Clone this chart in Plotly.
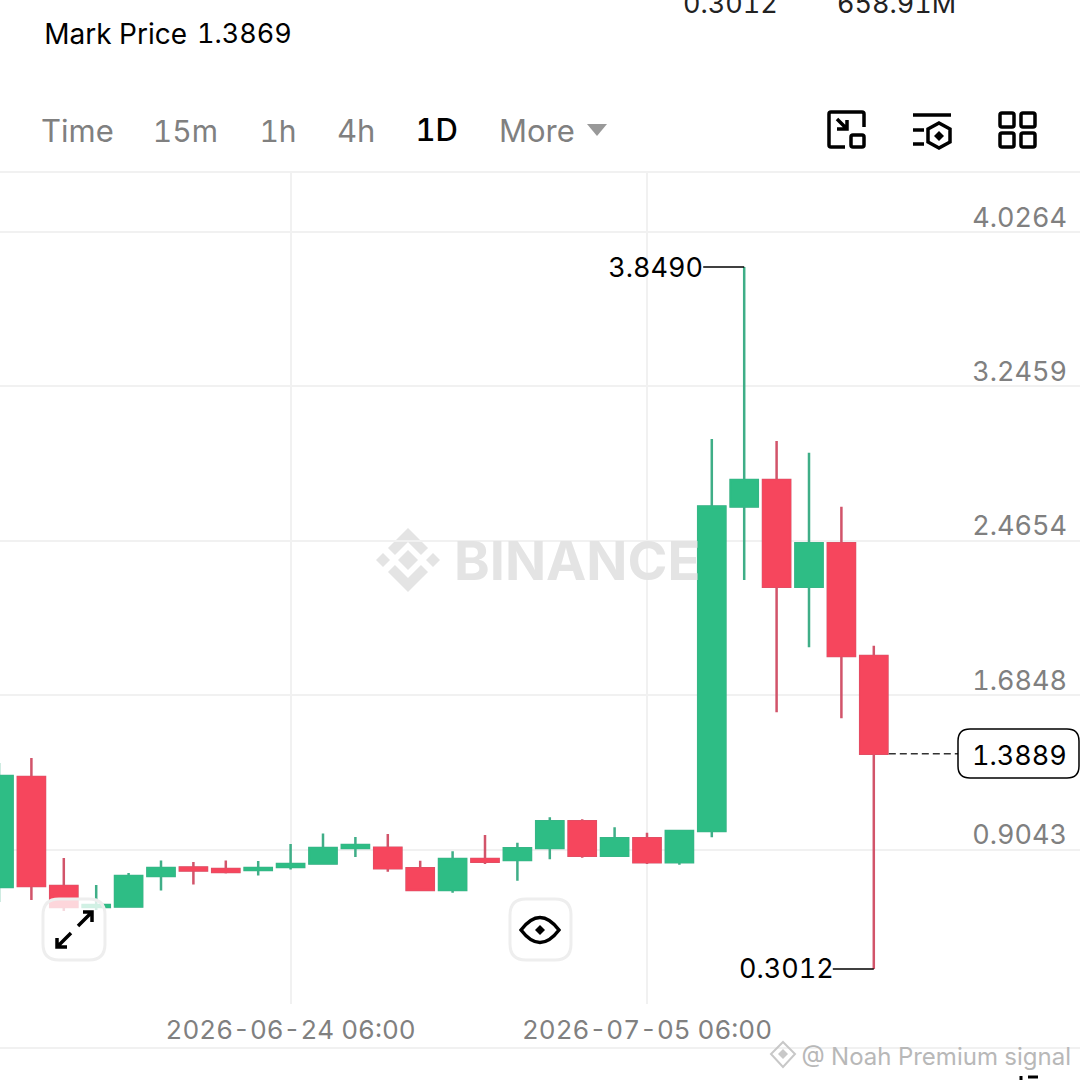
import pandas as pd
import plotly.graph_objects as go

dates = pd.date_range("2026-06-15 06:00", periods=28, freq="D")
opens = [0.7152, 1.2713, 0.7203, 0.6141, 0.6167, 0.7708, 0.8138, 0.8062, 0.8012, 0.8163,
         0.8340, 0.9124, 0.9139, 0.8098, 0.7001, 0.8568, 0.8517, 0.9124, 1.0473, 0.8735,
         0.9614, 0.8401, 0.9983, 2.6387, 2.7726, 2.2333, 2.4526, 1.8829]
highs = [1.3421, 1.3673, 0.8618, 0.7253, 0.7860, 0.8492, 0.8416, 0.8492, 0.8467, 0.9326,
         0.9857, 0.9680, 0.9832, 0.8482, 0.8957, 0.9781, 0.9392, 1.0676, 1.0575, 1.0170,
         0.9897, 0.9983, 2.9799, 3.8490, 2.9698, 2.9106, 2.6377, 1.9350]
lows = [0.6394, 0.6495, 0.5939, 0.5990, 0.6141, 0.6975, 0.7279, 0.7835, 0.7734, 0.8037,
        0.8315, 0.8669, 0.7926, 0.6965, 0.6864, 0.8315, 0.7471, 0.8553, 0.8633, 0.8684,
        0.8315, 0.8280, 0.9665, 2.2671, 1.5983, 1.9269, 1.5680, 0.3012]
closes = [1.2763, 0.7203, 0.6141, 0.6242, 0.7708, 0.8113, 0.7986, 0.7911, 0.8113, 0.8315,
          0.9124, 0.9275, 0.8098, 0.7001, 0.8568, 0.8431, 0.9109, 1.0473, 0.8735, 0.9614,
          0.8401, 0.9983, 2.6387, 2.7726, 2.2333, 2.4526, 1.8829, 1.3889]

price_ticks = [4.0264, 3.2459, 2.4654, 1.6848, 0.9043, 0.1238]
date_ticks = ["2026-06-24 06:00", "2026-07-05 06:00"]
last_price = 1.3889
max_price = 3.8490
min_price = 0.3012

GREEN = "#2EBD85"
RED = "#F6465D"
GREEN_WICK = "#3FAE87"
RED_WICK = "#D2546A"
GRID = "#F1F1F1"
GREY = "#808080"
FONT = "Inter"
SIZE = 1080


def xp(v):
    return v / SIZE


def yp(v):
    return 1 - v / SIZE


def path(*cmds):
    # build an svg path in screen pixels, flipped to paper coords
    out = []
    for c in cmds:
        if isinstance(c, str):
            out.append(c)
        else:
            out.append(f"{xp(c[0]):.5f},{yp(c[1]):.5f}")
    return " ".join(out)


def icon(*cmds, width=3.5, color="black", fill=None, layer="above"):
    return dict(type="path", xref="paper", yref="paper", path=path(*cmds), layer=layer,
                line=dict(color=color, width=width), fillcolor=fill or "rgba(0,0,0,0)")


def round_rect(x0, y0, x1, y1, r, **kw):
    return icon("M", (x0 + r, y0), "L", (x1 - r, y0), "Q", (x1, y0), (x1, y0 + r),
                "L", (x1, y1 - r), "Q", (x1, y1), (x1 - r, y1),
                "L", (x0 + r, y1), "Q", (x0, y1), (x0, y1 - r),
                "L", (x0, y0 + r), "Q", (x0, y0), (x0 + r, y0), "Z", **kw)


def label(text, x, y, size=27, color=GREY, anchor="left", weight=None):
    return dict(text=text, xref="paper", yref="paper", x=xp(x), y=yp(y), showarrow=False,
                xanchor=anchor, yanchor="middle",
                font=dict(family=FONT, size=size, color=color, weight=weight))


fig = go.Figure()
fig.add_trace(go.Candlestick(x=dates, open=opens, high=highs, low=lows, close=closes,
                             showlegend=False, hoverinfo="skip",
                             increasing=dict(line=dict(color=GREEN_WICK, width=2.5), fillcolor=GREEN),
                             decreasing=dict(line=dict(color=RED_WICK, width=2.5), fillcolor=RED)))
# second pass without wicks so the bodies keep a clean edge
body_hi = [max(o, c) for o, c in zip(opens, closes)]
body_lo = [min(o, c) for o, c in zip(opens, closes)]
fig.add_trace(go.Candlestick(x=dates, open=opens, high=body_hi, low=body_lo, close=closes,
                             showlegend=False, hoverinfo="skip",
                             increasing=dict(line=dict(color=GREEN, width=1.5), fillcolor=GREEN),
                             decreasing=dict(line=dict(color=RED, width=1.5), fillcolor=RED)))

shapes = []

# binance logo behind the candles
wm = "#E4E4E4"
cx, cy = 408, 560
shapes.append(icon("M", (cx, cy - 10), "L", (cx + 10, cy), "L", (cx, cy + 10), "L", (cx - 10, cy), "Z",
                   width=0, fill=wm, layer="below"))
shapes.append(icon("M", (cx - 32, cy), "L", (cx - 25, cy - 7), "L", (cx - 18, cy), "L", (cx - 25, cy + 7), "Z",
                   width=0, fill=wm, layer="below"))
shapes.append(icon("M", (cx + 32, cy), "L", (cx + 25, cy - 7), "L", (cx + 18, cy), "L", (cx + 25, cy + 7), "Z",
                   width=0, fill=wm, layer="below"))
shapes.append(icon("M", (cx - 20, cy - 12), "L", (cx, cy - 32), "L", (cx + 20, cy - 12), "L", (cx + 13, cy - 5),
                   "L", (cx, cy - 18), "L", (cx - 13, cy - 5), "Z", width=0, fill=wm, layer="below"))
shapes.append(icon("M", (cx - 20, cy + 12), "L", (cx, cy + 32), "L", (cx + 20, cy + 12), "L", (cx + 13, cy + 5),
                   "L", (cx, cy + 18), "L", (cx - 13, cy + 5), "Z", width=0, fill=wm, layer="below"))

# frame lines
for yy in (172, 1048):
    shapes.append(dict(type="line", xref="paper", yref="paper", x0=0, x1=1, y0=yp(yy), y1=yp(yy),
                       line=dict(color=GRID, width=2), layer="below"))

# max / min markers and last price line
shapes.append(dict(type="line", xref="x", yref="y", xsizemode="pixel", xanchor=dates[23],
                   x0=-41, x1=0, y0=max_price, y1=max_price, line=dict(color="black", width=1.5)))
shapes.append(dict(type="line", xref="x", yref="y", xsizemode="pixel", xanchor=dates[27],
                   x0=-41, x1=0, y0=min_price, y1=min_price, line=dict(color="black", width=1.5)))
shapes.append(dict(type="line", xref="x", yref="y", xsizemode="pixel", xanchor=dates[27],
                   x0=15, x1=85, y0=last_price, y1=last_price,
                   line=dict(color="#333333", width=1.5, dash="7px,4px")))
shapes.append(round_rect(958, 729, 1079, 778, 12, width=1.5, fill="white"))

# toolbar icons
shapes.append(icon("M", (864, 127), "L", (864, 114), "Q", (864, 112), (862, 112), "L", (831, 112),
                   "Q", (829, 112), (829, 114), "L", (829, 145), "Q", (829, 147), (831, 147), "L", (845, 147)))
shapes.append(round_rect(851, 135, 864, 147, 2))
shapes.append(icon("M", (837, 119), "L", (847, 129), "M", (847, 120), "L", (847, 129), "L", (837, 129)))
shapes.append(icon("M", (913, 115), "L", (951, 115), "M", (913, 130), "L", (924, 130), "M", (913, 144), "L", (924, 144)))
shapes.append(icon("M", (939, 123), "L", (950, 129), "L", (950, 142), "L", (939, 148), "L", (928, 142),
                   "L", (928, 129), "Z"))
shapes.append(icon("M", (939, 131), "L", (944, 136), "L", (939, 141), "L", (934, 136), "Z", width=0, fill="black"))
for bx in (1000, 1021):
    for by in (113, 133):
        shapes.append(round_rect(bx, by, bx + 14, by + 14, 2))
shapes.append(icon("M", (587, 124), "L", (607, 124), "L", (597, 136), "Z", width=0, fill="#999999"))

# chart buttons
shapes.append(round_rect(43, 899, 105, 960, 16, width=3, color="#EEEEEE", fill="rgba(255,255,255,0.78)"))
shapes.append(icon("M", (78, 926), "L", (92, 912), "M", (83, 912), "L", (92, 912), "L", (92, 922),
                   "M", (71, 933), "L", (57, 947), "M", (57, 938), "L", (57, 947), "L", (67, 947)))
shapes.append(round_rect(510, 899, 571, 960, 16, width=3, color="#EEEEEE", fill="rgba(255,255,255,0.78)"))
shapes.append(icon("M", (521, 930), "Q", (540, 905), (559, 930), "Q", (540, 955), (521, 930), "Z", width=3.5))
shapes.append(icon("M", (540, 925), "L", (545, 930), "L", (540, 935), "L", (535, 930), "Z", width=0, fill="black"))

# corner glyphs and the small logo of the repost watermark
shapes.append(icon("M", (1021, 1076), "L", (1021, 1080), "M", (1028, 1077), "L", (1038, 1077), width=3))
shapes.append(icon("M", (783, 1042), "L", (795, 1054), "L", (783, 1067), "L", (771, 1054), "Z",
                   width=2, color="#C8C8C8"))
shapes.append(icon("M", (783, 1049), "L", (788, 1054), "L", (783, 1059), "L", (778, 1054), "Z",
                   width=0, fill="#C8C8C8"))

annotations = [
    label("Mark Price", 42, 34, size=28, color="black"),
    label("1.3869", 200, 34, color="black"),
    label("0.3012", 686, 4, color="#222222"),
    label("658.91M", 840, 4, color="#222222"),
    label("Time", 39, 131, size=31),
    label("15m", 155, 131, size=30),
    label("1h", 261, 131, size=30),
    label("4h", 335, 131, size=31),
    label("1D", 417, 130, size=31, color="black", weight=500),
    label("More", 497, 131, size=31),
    label("BINANCE", 702, 560, size=54, color=wm, anchor="right", weight=700),
    label("1.3889", 1064, 755, color="black", anchor="right"),
    label("@ Noah Premium signal", 1073, 1056, size=24, color="#B8B8B8", anchor="right"),
    dict(text=f"{max_price:.4f}", x=dates[23], y=max_price, xref="x", yref="y", showarrow=False,
         xanchor="right", yanchor="middle", xshift=-41, font=dict(family=FONT, size=27, color="black")),
    dict(text=f"{min_price:.4f}", x=dates[27], y=min_price, xref="x", yref="y", showarrow=False,
         xanchor="right", yanchor="middle", xshift=-43, font=dict(family=FONT, size=27, color="black")),
]

# one candle step is 32.4 px, gridline of 07-05 sits at pixel 647
anchor = pd.Timestamp(date_ticks[1])
x_left = anchor - pd.Timedelta(days=647 / 32.4)
x_right = anchor + pd.Timedelta(days=(SIZE - 647) / 32.4)

fig.update_layout(
    width=SIZE, height=SIZE,
    margin=dict(l=0, r=0, t=0, b=0),
    paper_bgcolor="white", plot_bgcolor="white",
    boxgap=0.16,
    boxgroupgap=0,
    showlegend=False,
    shapes=shapes,
    annotations=annotations,
    font=dict(family=FONT, size=27, color=GREY),
    xaxis=dict(range=[x_left, x_right], tickvals=date_ticks, ticktext=date_ticks, showgrid=True,
               gridcolor=GRID, gridwidth=1.5, zeroline=False, rangeslider=dict(visible=False),
               ticks="", ticklabelstandoff=8, tickfont=dict(family=FONT, size=26, color=GREY)),
    yaxis=dict(domain=[76 / SIZE, 908 / SIZE], range=[0.1238, 4.3297], tickvals=price_ticks,
               ticktext=[f"{p:.4f}" for p in price_ticks], side="right",
               ticklabelposition="inside top", ticklabelstandoff=10, ticklabelshift=4, showgrid=True,
               gridcolor=GRID, gridwidth=1.5, zeroline=False, ticks="",
               tickfont=dict(family=FONT, size=27, color=GREY)),
)

# tabular digits like the app, no page margin
page_js = ("document.body.style.margin='0';document.body.style.overflow='hidden';"
           "document.body.style.fontFeatureSettings='\"tnum\"';")
fig.write_html("out.html", post_script=page_js, config=dict(displayModeBar=False))
